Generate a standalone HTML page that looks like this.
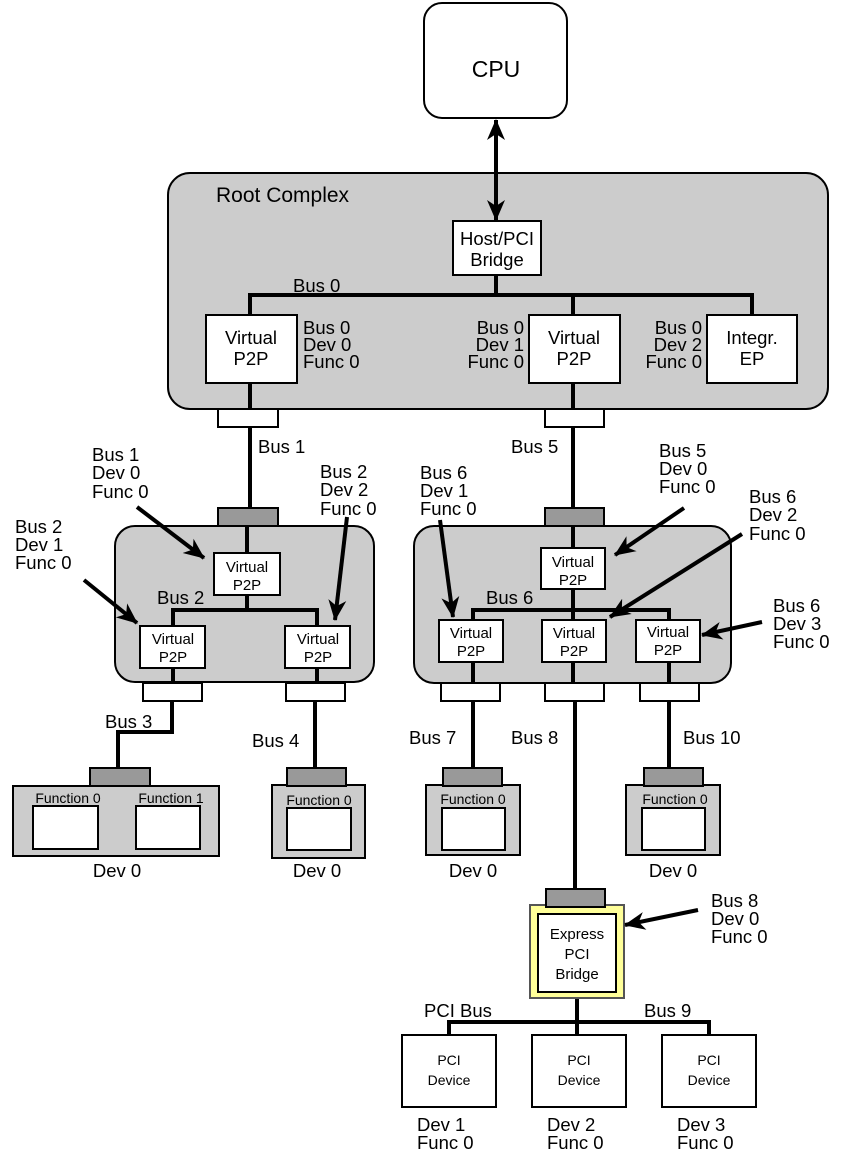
<!DOCTYPE html>
<html><head><meta charset="utf-8"><style>
html,body{margin:0;padding:0;background:#fff;}
svg{display:block;}
text{font-family:"Liberation Sans",Arial,sans-serif;fill:#000;}
.l{font-size:18.5px;}
.s{font-size:15px;}
.f{font-size:14px;}
</style></head><body>
<svg width="858" height="1165" viewBox="0 0 858 1165" xmlns="http://www.w3.org/2000/svg">
<defs>
<marker id="ah2" markerWidth="22" markerHeight="20" refX="20" refY="10" orient="auto" markerUnits="userSpaceOnUse">
<path d="M0,1 L21,10 L0,19 L6,10 Z" fill="#000"/></marker>
<marker id="ahs" markerWidth="22" markerHeight="20" refX="20" refY="10" orient="auto-start-reverse" markerUnits="userSpaceOnUse">
<path d="M0,1 L21,10 L0,19 L6,10 Z" fill="#000"/></marker>
</defs>
<g stroke="#000" stroke-width="2">
<rect x="424" y="3" width="143" height="115" rx="18" fill="#fff"/>
<rect x="168" y="173" width="660" height="236" rx="22" fill="#ccc"/>
<rect x="115" y="526" width="259" height="156" rx="20" fill="#ccc"/>
<rect x="414" y="526" width="317" height="157" rx="20" fill="#ccc"/>
</g>
<g stroke="#000" stroke-width="4" fill="none">
<line x1="496" y1="120" x2="496" y2="220" marker-start="url(#ahs)" marker-end="url(#ahs)"/>
<polyline points="250,315 250,295 752,295 752,315"/>
<line x1="496" y1="275" x2="496" y2="295"/>
<line x1="573" y1="295" x2="573" y2="315"/>
<line x1="250" y1="383" x2="250" y2="508"/>
<line x1="573" y1="383" x2="573" y2="508"/>
<line x1="247" y1="526" x2="247" y2="610"/>
<polyline points="173,626 173,610 317,610 317,626"/>
<line x1="173" y1="668" x2="173" y2="683"/>
<line x1="317" y1="668" x2="317" y2="683"/>
<polyline points="172,701 172,732 118,732 118,768"/>
<line x1="315" y1="701" x2="315" y2="768"/>
<line x1="573" y1="526" x2="573" y2="620"/>
<polyline points="473,620 473,610 669,610 669,620"/>
<line x1="473" y1="662" x2="473" y2="768"/>
<line x1="573" y1="662" x2="573" y2="683"/>
<line x1="575" y1="701" x2="575" y2="889"/>
<line x1="669" y1="662" x2="669" y2="768"/>
<line x1="577" y1="998" x2="577" y2="1035"/>
<polyline points="449,1035 449,1022 709,1022 709,1035"/>
</g>
<g stroke="#000" stroke-width="2">
<rect x="453" y="221" width="88" height="54" fill="#fff"/>
<rect x="206" y="315" width="91" height="68" fill="#fff"/>
<rect x="529" y="315" width="91" height="68" fill="#fff"/>
<rect x="707" y="315" width="90" height="68" fill="#fff"/>
<rect x="218" y="409" width="60" height="18" fill="#fff"/>
<rect x="545" y="409" width="59" height="18" fill="#fff"/>
<rect x="218" y="508" width="60" height="18" fill="#999"/>
<rect x="545" y="508" width="59" height="18" fill="#999"/>
<rect x="214" y="553" width="66" height="42" fill="#fff"/>
<rect x="140" y="626" width="65" height="42" fill="#fff"/>
<rect x="285" y="626" width="65" height="42" fill="#fff"/>
<rect x="143" y="683" width="59" height="18" fill="#fff"/>
<rect x="286" y="683" width="59" height="18" fill="#fff"/>
<rect x="541" y="548" width="64" height="41" fill="#fff"/>
<rect x="439" y="620" width="64" height="42" fill="#fff"/>
<rect x="542" y="620" width="64" height="42" fill="#fff"/>
<rect x="636" y="620" width="64" height="42" fill="#fff"/>
<rect x="441" y="683" width="59" height="18" fill="#fff"/>
<rect x="545" y="683" width="59" height="18" fill="#fff"/>
<rect x="640" y="683" width="59" height="18" fill="#fff"/>
<rect x="13" y="786" width="206" height="70" fill="#ccc"/>
<rect x="90" y="768" width="60" height="18" fill="#999"/>
<rect x="33" y="806" width="65" height="43" fill="#fff"/>
<rect x="136" y="806" width="64" height="43" fill="#fff"/>
<rect x="272" y="785" width="93" height="73" fill="#ccc"/>
<rect x="287" y="768" width="59" height="18" fill="#999"/>
<rect x="287" y="808" width="64" height="42" fill="#fff"/>
<rect x="426" y="785" width="94" height="70" fill="#ccc"/>
<rect x="443" y="768" width="59" height="18" fill="#999"/>
<rect x="442" y="808" width="63" height="42" fill="#fff"/>
<rect x="626" y="785" width="94" height="70" fill="#ccc"/>
<rect x="644" y="768" width="59" height="18" fill="#999"/>
<rect x="642" y="808" width="63" height="42" fill="#fff"/>
<rect x="530" y="905" width="94" height="93" fill="#ffff99" stroke="#555"/>
<rect x="546" y="889" width="59" height="18" fill="#999"/>
<rect x="538" y="914" width="78" height="78" fill="#fff"/>
<rect x="402" y="1035" width="94" height="72" fill="#fff"/>
<rect x="532" y="1035" width="94" height="72" fill="#fff"/>
<rect x="662" y="1035" width="94" height="72" fill="#fff"/>
</g>
<g stroke="#000" stroke-width="4">
<line x1="137" y1="507" x2="204" y2="558" marker-end="url(#ah2)"/>
<line x1="347" y1="517" x2="335" y2="620" marker-end="url(#ah2)"/>
<line x1="84" y1="580" x2="137" y2="623" marker-end="url(#ah2)"/>
<line x1="440" y1="520" x2="453" y2="617" marker-end="url(#ah2)"/>
<line x1="684" y1="508" x2="615" y2="555" marker-end="url(#ah2)"/>
<line x1="742" y1="534" x2="610" y2="617" marker-end="url(#ah2)"/>
<line x1="762" y1="622" x2="702" y2="635" marker-end="url(#ah2)"/>
<line x1="698" y1="910" x2="625" y2="925" marker-end="url(#ah2)"/>
</g>
<text x="496" y="77" font-size="23" text-anchor="middle">CPU</text>
<text x="216" y="202" font-size="21">Root Complex</text>
<g class="l" text-anchor="middle">
<text x="497" y="245">Host/PCI</text><text x="497" y="266">Bridge</text>
<text x="251" y="344">Virtual</text><text x="251" y="365">P2P</text>
<text x="574" y="344">Virtual</text><text x="574" y="365">P2P</text>
<text x="752" y="344">Integr.</text><text x="752" y="365">EP</text>
<text x="117" y="877">Dev 0</text><text x="317" y="877">Dev 0</text>
<text x="473" y="877">Dev 0</text><text x="673" y="877">Dev 0</text>
</g>
<g class="l">
<text x="293" y="292">Bus 0</text>
<text x="303" y="334">Bus 0</text><text x="303" y="351">Dev 0</text><text x="303" y="368">Func 0</text>
<g text-anchor="end">
<text x="524" y="334">Bus 0</text><text x="524" y="351">Dev 1</text><text x="524" y="368">Func 0</text>
<text x="702" y="334">Bus 0</text><text x="702" y="351">Dev 2</text><text x="702" y="368">Func 0</text>
</g>
<text x="258" y="453">Bus 1</text>
<text x="511" y="453">Bus 5</text>
<text x="92" y="461">Bus 1</text><text x="92" y="479">Dev 0</text><text x="92" y="498">Func 0</text>
<text x="320" y="478">Bus 2</text><text x="320" y="496">Dev 2</text><text x="320" y="515">Func 0</text>
<text x="15" y="533">Bus 2</text><text x="15" y="551">Dev 1</text><text x="15" y="569">Func 0</text>
<text x="157" y="604">Bus 2</text>
<text x="420" y="479">Bus 6</text><text x="420" y="497">Dev 1</text><text x="420" y="515">Func 0</text>
<text x="659" y="457">Bus 5</text><text x="659" y="475">Dev 0</text><text x="659" y="493">Func 0</text>
<text x="749" y="503">Bus 6</text><text x="749" y="521">Dev 2</text><text x="749" y="540">Func 0</text>
<text x="773" y="612">Bus 6</text><text x="773" y="630">Dev 3</text><text x="773" y="648">Func 0</text>
<text x="486" y="604">Bus 6</text>
<text x="105" y="728">Bus 3</text>
<text x="252" y="747">Bus 4</text>
<text x="409" y="744">Bus 7</text>
<text x="511" y="744">Bus 8</text>
<text x="683" y="744">Bus 10</text>
<text x="711" y="907">Bus 8</text><text x="711" y="925">Dev 0</text><text x="711" y="943">Func 0</text>
<text x="424" y="1017">PCI Bus</text>
<text x="644" y="1017">Bus 9</text>
<text x="417" y="1131">Dev 1</text><text x="417" y="1149">Func 0</text>
<text x="547" y="1131">Dev 2</text><text x="547" y="1149">Func 0</text>
<text x="677" y="1131">Dev 3</text><text x="677" y="1149">Func 0</text>
</g>
<g class="s" text-anchor="middle">
<text x="247" y="572">Virtual</text><text x="247" y="590">P2P</text>
<text x="173" y="644">Virtual</text><text x="173" y="662">P2P</text>
<text x="318" y="644">Virtual</text><text x="318" y="662">P2P</text>
<text x="573" y="567">Virtual</text><text x="573" y="585">P2P</text>
<text x="471" y="638">Virtual</text><text x="471" y="656">P2P</text>
<text x="574" y="638">Virtual</text><text x="574" y="656">P2P</text>
<text x="668" y="637">Virtual</text><text x="668" y="655">P2P</text>
<text x="577" y="939">Express</text><text x="577" y="959">PCI</text><text x="577" y="979">Bridge</text>
</g>
<g class="f" text-anchor="middle">
<text x="68" y="803">Function 0</text><text x="171" y="803">Function 1</text>
<text x="319" y="805">Function 0</text>
<text x="473" y="804">Function 0</text>
<text x="675" y="804">Function 0</text>
<text x="449" y="1065">PCI</text><text x="449" y="1085">Device</text>
<text x="579" y="1065">PCI</text><text x="579" y="1085">Device</text>
<text x="709" y="1065">PCI</text><text x="709" y="1085">Device</text>
</g>
</svg>
</body></html>
